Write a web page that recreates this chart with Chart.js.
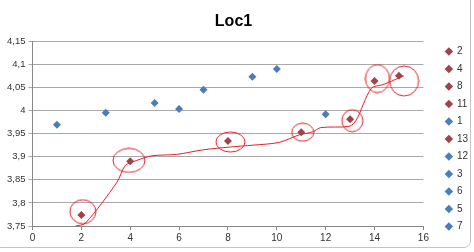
<!DOCTYPE html>
<html>
<head>
<meta charset="utf-8">
<script src="https://cdn.jsdelivr.net/npm/chart.js@4.4.1/dist/chart.umd.min.js"></script>
<style>
  html, body { margin: 0; padding: 0; background: #fff; }
  #frame { position: absolute; left: -6px; top: -6px; width: 477px; height: 254px; box-sizing: border-box;
           border: 1px solid #c4c4c4; border-radius: 7px; pointer-events: none; }
</style>
</head>
<body>
<canvas id="chart" width="474" height="252"></canvas>
<div id="frame"></div>
<script>
// one series per sample, named by its x value
const seriesOrder = [2, 4, 8, 11, 1, 13, 12, 3, 6, 5, 7, 14, 15, 9, 10];
const xValues = [1, 2, 3, 4, 5, 6, 7, 8, 9, 10, 11, 12, 13, 14, 15];
const yValues = [3.969, 3.774, 3.995, 3.890, 4.016, 4.003, 4.045, 3.934, 4.073, 4.090, 3.953, 3.992, 3.981, 4.064, 4.075];
const redSeries = [2, 4, 8, 11, 13, 14, 15];
const legendCount = 11;

// hand drawn trend line
const lineX = [1.76, 2.16, 3.46, 3.80, 4.27, 4.89, 5.90, 7.00, 8.10, 9.03, 10.10, 10.90, 11.48, 11.80, 12.98, 13.25, 13.87, 14.35, 15.20];
const lineY = [3.750, 3.756, 3.845, 3.881, 3.892, 3.902, 3.905, 3.915, 3.921, 3.925, 3.931, 3.947, 3.954, 3.963, 3.966, 3.979, 4.048, 4.056, 4.075];

// hand drawn rings
const ringX = [2.06, 3.95, 8.10, 11.06, 13.09, 14.12, 15.21];
const ringY = [3.781, 3.892, 3.932, 3.953, 3.978, 4.069, 4.064];
const ringRx = [13, 16, 14.5, 11, 10.5, 12, 14.5];
const ringRy = [12, 12, 10, 9, 11, 14, 15];

const BLUE = '#4a7ebb';
const RED = '#a0434a';
const PEN = '#e3222a';

function ellipse(rx, ry) {
  const c = document.createElement('canvas');
  c.width = Math.ceil(rx * 2 + 2);
  c.height = Math.ceil(ry * 2 + 2);
  const g = c.getContext('2d');
  g.strokeStyle = PEN;
  g.lineWidth = 1;
  g.beginPath();
  g.ellipse(c.width / 2, c.height / 2, rx, ry, 0, 0, Math.PI * 2);
  g.stroke();
  return c;
}

const datasets = seriesOrder.map(s => {
  const i = xValues.indexOf(s);
  const col = redSeries.includes(s) ? RED : BLUE;
  return {
    label: String(s),
    data: [{ x: xValues[i], y: yValues[i] }],
    pointStyle: 'rectRot',
    pointRadius: 4,
    backgroundColor: col,
    borderColor: col,
    borderWidth: 0,
    showLine: false
  };
});

datasets.push({
  label: 'line',
  data: lineX.map((x, i) => ({ x, y: lineY[i] })),
  showLine: true,
  borderColor: PEN,
  borderWidth: 1,
  tension: 0.3,
  pointRadius: 0
});

datasets.push({
  label: 'rings',
  data: ringX.map((x, i) => ({ x, y: ringY[i] })),
  showLine: false,
  pointStyle: ringRx.map((rx, i) => ellipse(rx, ringRy[i])),
  pointRadius: 14
});

// nudge the legend column to where Excel put it
const legendShift = {
  id: 'legendShift',
  afterLayout(chart) {
    const l = chart.legend;
    l.left += 15; l.right += 15;
    l.top += 16; l.bottom += 16;
  }
};

const font = 'Liberation Sans';

new Chart(document.getElementById('chart'), {
  type: 'scatter',
  data: { datasets },
  plugins: [legendShift],
  options: {
    responsive: false,
    animation: false,
    layout: { padding: { left: 4, right: 11, top: 0, bottom: 6 } },
    plugins: {
      title: {
        display: true, text: 'Loc1', color: '#000',
        font: { family: font, size: 16, weight: 'bold' },
        padding: { top: 12, bottom: 10 }
      },
      legend: {
        position: 'right',
        labels: {
          usePointStyle: true, pointStyle: 'rectRot',
          boxWidth: 6, boxHeight: 6,
          padding: 7.5, color: '#333',
          font: { family: font, size: 10 },
          filter: item => item.datasetIndex < legendCount
        }
      },
      tooltip: { enabled: false }
    },
    scales: {
      x: {
        type: 'linear', min: 0, max: 16,
        ticks: { stepSize: 2, color: '#333', font: { family: font, size: 10 }, padding: 2 },
        grid: { drawOnChartArea: false, tickLength: 4, color: '#888' },
        border: { color: '#888' }
      },
      y: {
        min: 3.75, max: 4.15,
        ticks: {
          stepSize: 0.05, color: '#333', font: { family: font, size: 9.5 }, padding: 3,
          callback: v => String(+v.toFixed(2)).replace('.', ',')
        },
        grid: { color: '#a8a8a8', tickLength: 4 },
        border: { color: '#888' }
      }
    }
  }
});
</script>
</body>
</html>
